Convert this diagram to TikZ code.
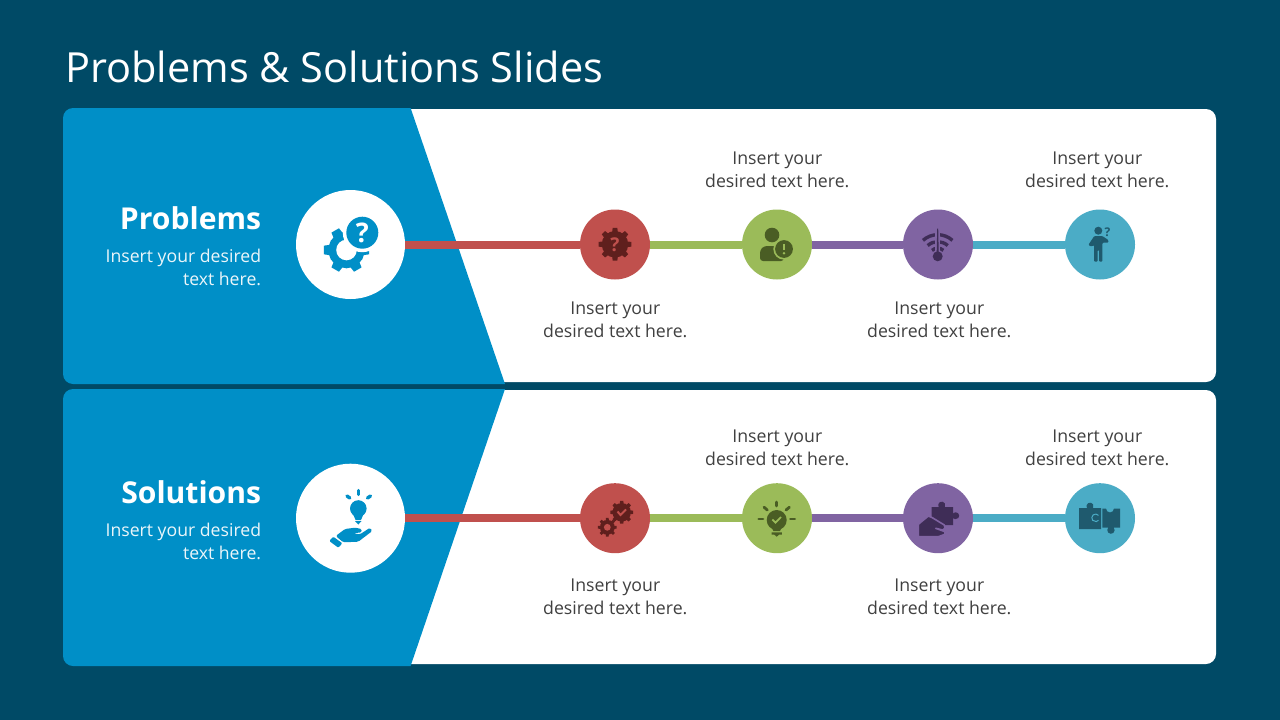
\documentclass[tikz,border=0pt]{standalone}
\usepackage{fontspec}
\setmainfont{Open Sans}
\definecolor{bgc}{HTML}{004A66}
\definecolor{bluec}{HTML}{008FC7}
\definecolor{redc}{HTML}{C0504D}
\definecolor{greenc}{HTML}{9BBB59}
\definecolor{purplec}{HTML}{8064A2}
\definecolor{tealc}{HTML}{4BACC6}
\definecolor{redd}{HTML}{5F1F1D}
\definecolor{greend}{HTML}{4A5D24}
\definecolor{purpled}{HTML}{3F2D57}
\definecolor{teald}{HTML}{1F5A6E}
\definecolor{textc}{HTML}{404040}
\newcommand{\geargly}[6]{% cx cy teeth R r color
  \fill[#6,shift={(#1,#2)}] ({-180/#3*0.55}:#5)
    \foreach \i in {1,...,#3} {
      -- ({(\i-1)*360/#3-180/#3*0.55}:#5)
      -- ({(\i-1)*360/#3-180/#3*0.36}:#4)
      -- ({(\i-1)*360/#3+180/#3*0.36}:#4)
      -- ({(\i-1)*360/#3+180/#3*0.55}:#5)
      -- ({(\i-1)*360/#3+180/#3*1.0}:#5+0.3)
    } -- cycle;}
\tikzset{
  body/.style={font=\fontsize{17.7}{23}\selectfont,text=textc,align=center,inner sep=0pt},
  side/.style={font=\fontsize{17.65}{23}\selectfont,text=white!92!bluec,align=right,inner sep=0pt,anchor=east},
  head/.style={font=\fontsize{30.1}{36}\selectfont\bfseries,text=white,inner sep=0pt,anchor=east},
  dot/.style={circle,minimum size=70pt,inner sep=0pt},
  hub/.style={circle,fill=white,minimum size=109pt,inner sep=0pt},
  link/.style={line width=8pt},
  glyph/.style={inner sep=0pt,font=\bfseries\fontsize{#1}{#1}\selectfont}
}
\begin{document}
\begin{tikzpicture}[x=1pt,y=-1pt]
\useasboundingbox (0,0) rectangle (1280,720);
\fill[bgc] (0,0) rectangle (1280,720);
\node[inner sep=0pt,anchor=west,text=white,font=\fontsize{41.5}{44}\selectfont] (title) at (65,67) {Problems \& Solutions Slides};
% cards
\fill[white,rounded corners=10pt] (300,109) rectangle (1216,382);
\fill[white,rounded corners=10pt] (300,390) rectangle (1216,664);
\fill[bluec] (410.6,108) -- (505,384) -- (73,384) arc[start angle=90,end angle=180,radius=10] -- (63,118) arc[start angle=180,end angle=270,radius=10] -- cycle;
\fill[bluec] (505,389) -- (410.6,666) -- (73,666) arc[start angle=90,end angle=180,radius=10] -- (63,399) arc[start angle=180,end angle=270,radius=10] -- cycle;
% row 1
\node[hub] (p0) at (350.5,244.5) {};
\node[dot,fill=redc] (p1) at (615,244.5) {};
\node[dot,fill=greenc] (p2) at (777,244.5) {};
\node[dot,fill=purplec] (p3) at (938,244.5) {};
\node[dot,fill=tealc] (p4) at (1100,244.5) {};
\draw[link,redc] (p0) -- (p1);
\draw[link,greenc] (p1) -- (p2);
\draw[link,purplec] (p2) -- (p3);
\draw[link,tealc] (p3) -- (p4);
% row 2
\node[hub] (s0) at (350.5,518.2) {};
\node[dot,fill=redc] (s1) at (615,518.2) {};
\node[dot,fill=greenc] (s2) at (777,518.2) {};
\node[dot,fill=purplec] (s3) at (938,518.2) {};
\node[dot,fill=tealc] (s4) at (1100,518.2) {};
\draw[link,redc] (s0) -- (s1);
\draw[link,greenc] (s1) -- (s2);
\draw[link,purplec] (s2) -- (s3);
\draw[link,tealc] (s3) -- (s4);
% side text
\node[head] (ph) at (261.3,218) {Problems};
\node[side] (pt) at (261.3,267.2) {Insert your desired\\text here.};
\node[head] (sh) at (261.3,492) {Solutions};
\node[side] (st) at (261.3,541.2) {Insert your desired\\text here.};
% body text
\node[body] (t1) at (615.3,319.5) {Insert your\\desired text here.};
\node[body] (t2) at (777.3,169.5) {Insert your\\desired text here.};
\node[body] (t3) at (939.3,319.5) {Insert your\\desired text here.};
\node[body] (t4) at (1097.3,169.5) {Insert your\\desired text here.};
\node[body] (t5) at (615.3,596.5) {Insert your\\desired text here.};
\node[body] (t6) at (777.3,447.5) {Insert your\\desired text here.};
\node[body] (t7) at (939.3,596.5) {Insert your\\desired text here.};
\node[body] (t8) at (1097.3,447.5) {Insert your\\desired text here.};
% hub icon: gear + question
\geargly{346.5}{250}{6}{23}{18}{bluec}
\fill[white] (346.5,250) circle (10.3);
\fill[white] (362.3,232.7) circle (19.5);
\fill[bluec] (362.3,232.7) circle (16);
\node[glyph=27,text=white] (q0) at (362.3,232.5) {?};
% red gear ?
\geargly{615}{244.3}{8}{16.5}{13}{redd}
\node[glyph=19,text=redc] (q1) at (615,244.3) {?};
% green person alert
\fill[greend] (772,235) circle (7.3);
\fill[greend,rounded corners=3pt] (760,261) -- (760,250) -- (764,246) -- (780,246) -- (784,250) -- (784,261) -- cycle;
\fill[greenc] (784,249) circle (10.7);
\fill[greend] (784,249) circle (8.9);
\draw[greenc,line width=2.4pt] (784,244) -- (784,250);
\fill[greenc] (784,253.3) circle (1.4);
% purple wifi off
\foreach \r/\a in {22/42,15/42,8.5/42}
  \draw[purpled,line width=3.4pt] ([shift={(-90-\a:\r)}]937.7,256.7) arc[start angle=-90-\a,delta angle=2*\a,radius=\r];
\draw[purplec,line width=5pt] (937.7,226) -- (937.7,252);
\fill[purpled] (936.7,252) -- (937.2,228.5) -- (938.2,228.5) -- (938.7,252) -- cycle;
\fill[purpled] (937.7,256.3) circle (5);
% teal person ?
\fill[teald] (1098.3,230.7) circle (4);
\fill[teald,rounded corners=1pt] (1094.3,236) -- (1102.3,236) -- (1108.3,240) -- (1108.3,242.7) -- (1102.3,242.7) -- (1102.3,261.7) -- (1099,261.7) -- (1099,250) -- (1097.7,250) -- (1097.7,261.7) -- (1094,261.7) -- (1094,245) -- (1091.5,246.5) -- (1088.3,245) -- cycle;
\node[glyph=12,text=teald] (q4) at (1107.5,232) {?};
% hub icon 2: bulb and hand
\fill[bluec] (358.3,508.5) circle (8.3);
\fill[bluec] (352.5,513) -- (364,513) -- (361,520) -- (355.6,520) -- cycle;
\fill[bluec] (355,521) -- (361.6,521) -- (358.3,524.5) -- cycle;
\draw[bluec,line width=3.4pt,line cap=round] (358.3,490.5) -- (358.3,494.5);
\draw[bluec,line width=3.4pt,line cap=round] (347,496) -- (349.8,498);
\draw[bluec,line width=3.4pt,line cap=round] (370.5,496) -- (367.5,498);
\fill[bluec,rounded corners=1.5pt] (335.7,536) -- (345,529) -- (355,527.7) -- (361.7,529) -- (361.7,532.3) -- (353.3,533.3) -- (360,534.3) -- (370,527.7) -- (372.3,531) -- (358.3,541.7) -- (343.3,542.3) -- cycle;
\fill[bluec,rounded corners=1pt] (329.3,541) -- (333.3,536.7) -- (342.3,543.3) -- (338.3,547.7) -- cycle;
% red two gears
\geargly{621.7}{512.3}{8}{11.5}{9}{redd}
\draw[redc,line width=2pt] (617.5,511.5) -- (620.5,515) -- (626,509.5);
\geargly{607.3}{527.3}{8}{9.5}{7.2}{redd}
\fill[redc] (607.3,527.3) circle (3.4);
% green bulb
\fill[greend] (776.7,520) circle (10);
\fill[greend] (771,526) -- (782.4,526) -- (780,531) -- (773.4,531) -- cycle;
\fill[greend] (771.5,532.3) -- (781.9,532.3) -- (781.9,534.7) -- (779,534.7) -- (776.7,536.7) -- (774.4,534.7) -- (771.5,534.7) -- cycle;
\draw[greenc,line width=1.7pt] (772.3,519.5) -- (775.5,522.7) -- (781,517);
\foreach \a/\b/\c/\d in {776.7/502/776.7/506,764/507.2/767.3/510,789.4/507.2/786/510,758.7/519/763/519,794.7/519/790.4/519}
  \draw[greend,line width=2.8pt,line cap=round] (\a,\b) -- (\c,\d);
% purple hand + puzzle
\fill[purpled] (931.7,507) -- (938.6,507) arc[start angle=150,end angle=390,radius=3.6] -- (953,507) -- (953,513.5) arc[start angle=-140,end angle=140,radius=3.5] -- (953,525) -- (931.7,525) -- cycle;
\filldraw[fill=purpled,draw=purplec,line width=1.6pt,line join=round] (918.3,524.3) -- (928.3,516) -- (932.3,517.7) -- (944.3,525) -- (945,528.3) -- (942.7,530) -- (935.7,528.3) -- (945,531.7) -- (945,534.3) -- (938.3,536.7) -- (918.3,536.7) -- cycle;
% teal puzzle
\fill[teald] (1079,508) -- (1086.9,508) arc[start angle=150,end angle=390,radius=3.6] -- (1101,508) -- (1101,529) -- (1079,529) -- cycle;
\draw[tealc,line width=1pt] (1098.5,515.4) arc[start angle=-40,end angle=-320,radius=3.8];
\fill[teald] (1102.3,508.5) -- (1106,508.5) arc[start angle=180,end angle=0,radius=4] -- (1120,508.5) -- (1120,527.7) -- (1113.8,527.7) arc[start angle=-40,end angle=220,radius=3.7] -- (1102.3,527.7) -- cycle;
\end{tikzpicture}
\end{document}
